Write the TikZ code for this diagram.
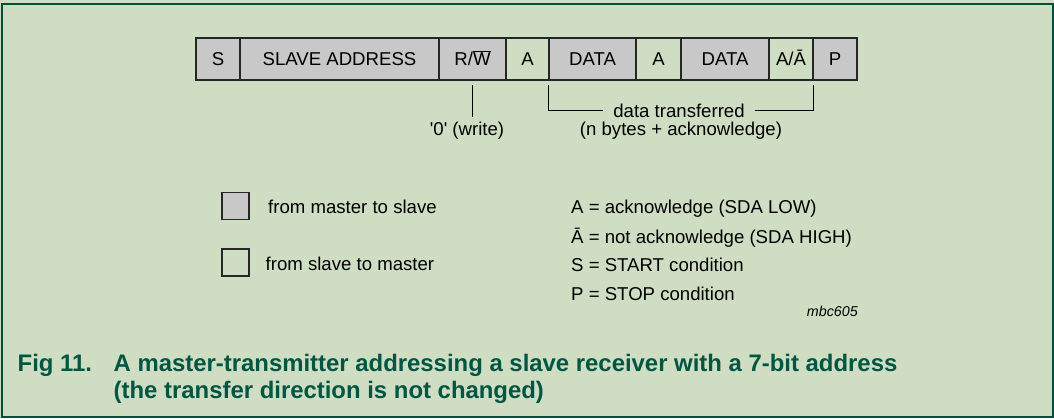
\documentclass[tikz,border=0pt]{standalone}
\usepackage{fontspec}
\setmainfont{Liberation Sans}[Ligatures=TeXOff]
\definecolor{bg}{RGB}{207,222,195}
\definecolor{framecol}{RGB}{0,80,60}
\definecolor{capcol}{RGB}{0,86,66}
\definecolor{boxgray}{RGB}{200,200,200}
\newcommand{\ovW}{$\overline{\hbox{W}}$}
\begin{document}
\begin{tikzpicture}[x=1pt,y=-1pt,
  font=\fontsize{18.6pt}{22pt}\selectfont,
  cell/.style={draw=black!85, line width=1.5pt, minimum height=42pt, inner sep=0pt, text height=13.3pt, text depth=0pt},
  gcell/.style={cell, fill=boxgray},
  legbox/.style={draw=black!85, line width=1.5pt, minimum size=27pt, inner sep=0pt},
  lbl/.style={inner sep=0pt, anchor=base west},
  clbl/.style={inner sep=0pt, anchor=base},
  thinline/.style={line width=0.9pt, black},
  captxt/.style={inner sep=0pt, anchor=base west, text=capcol, font=\fontsize{23.9pt}{28pt}\selectfont\bfseries}]
\useasboundingbox (0,0) rectangle (1054,418);
\fill[bg] (0,0) rectangle (1054,418);
\draw[framecol, line width=2pt] (1.5,3.5) rectangle (1053,416.5);

% frame cells
\node[gcell, minimum width=44pt] (s) at (218,59) {S};
\node[gcell, minimum width=199pt] (addr) at (339.5,59) {SLAVE ADDRESS};
\node[gcell, minimum width=67pt] (rw) at (472.5,59) {R/\ovW};
\node[cell, minimum width=43pt] (a1) at (527.5,59) {A};
\node[gcell, minimum width=87pt] (d1) at (592.5,59) {DATA};
\node[cell, minimum width=45pt] (a2) at (658.5,59) {A};
\node[gcell, minimum width=88pt] (d2) at (725,59) {DATA};
\node[cell, minimum width=44pt] (an) at (791,59) {A/Ā};
\node[gcell, minimum width=44pt] (p) at (835,59) {P};

% annotations under the frame
\node[clbl] (wr) at (467,135) {'0' (write)};
\draw[thinline] ([yshift=-4pt]rw.south) -- ([yshift=4pt]wr.north -| rw.south);
\node[inner xsep=10pt, inner ysep=0pt, anchor=base] (dt) at (679,117.5) {data transferred};
\node[clbl] (nb) at (681,135.5) {(n bytes + acknowledge)};
\draw[thinline] ([yshift=-4pt]d1.south west) |- (dt.west);
\draw[thinline] (dt.east) -| ([yshift=-4pt]an.south east);

% legend
\node[legbox, fill=boxgray] (lg1) at (235.5,206) {};
\node[legbox] (lg2) at (235.5,262.5) {};
\node[lbl] (lt1) at (268,213.5) {from master to slave};
\node[lbl] (lt2) at (265.5,270.5) {from slave to master};
\node[lbl] (k1) at (571,213.5) {A = acknowledge (SDA LOW)};
\node[lbl] (k2) at (571,243) {Ā = not acknowledge (SDA HIGH)};
\node[lbl] (k3) at (571,271) {S = START condition};
\node[lbl] (k4) at (571,300) {P = STOP condition};
\node[inner sep=0pt, anchor=base east, font=\fontsize{14.3pt}{16pt}\selectfont\itshape] (code) at (858,316) {mbc605};

% caption
\node[captxt] (fig) at (17.5,371) {Fig 11.};
\node[captxt] (c1) at (113.5,371) {A master-transmitter addressing a slave receiver with a 7-bit address};
\node[captxt] (c2) at (113.5,398) {(the transfer direction is not changed)};
\end{tikzpicture}
\end{document}
